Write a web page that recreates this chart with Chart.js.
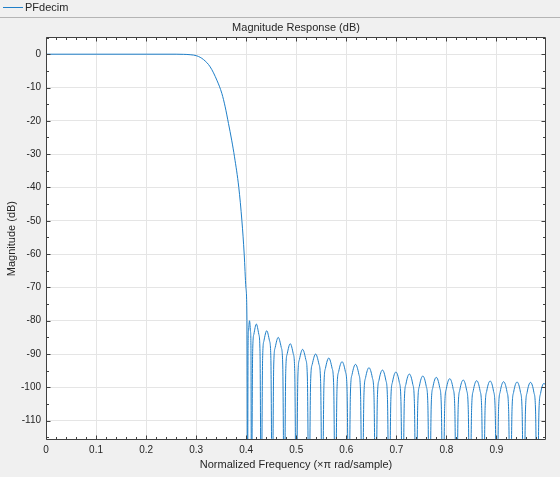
<!DOCTYPE html>
<html lang="en">
<head>
<meta charset="UTF-8">
<title>PFdecim - Magnitude Response</title>
<script src="https://cdn.jsdelivr.net/npm/chart.js"></script>
<style>
  body { margin: 0; background-color: #f0f0f0; }
  canvas { display: block; }
</style>
</head>
<body>
<canvas id="myChart" width="560" height="477"></canvas>
<script>
// tick labels
var xTicks = [0, 0.1, 0.2, 0.3, 0.4, 0.5, 0.6, 0.7, 0.8, 0.9];
var yTicks = [-110, -100, -90, -80, -70, -60, -50, -40, -30, -20, -10, 0];

// normalized frequency (x pi rad/sample)
var freq = [
  // passband + transition
  0, 0.1, 0.2, 0.26, 0.275, 0.288, 0.3014, 0.3146, 0.328, 0.3414, 0.3514, 0.358,
  0.3646, 0.371, 0.3766, 0.3852, 0.3914, 0.396, 0.3994, 0.4015,
  // stopband lobes (null, shoulders, peak)
  0.4027, 0.4037, 0.4047, 0.4066, 0.4085, 0.4095,
  0.4105, 0.4129, 0.4154, 0.4203, 0.4251, 0.4276,
  0.430, 0.4328, 0.4355, 0.441, 0.4465, 0.4493,
  0.452, 0.455, 0.458, 0.464, 0.470, 0.473,
  0.476, 0.479, 0.482, 0.488, 0.494, 0.497,
  0.500, 0.5032, 0.5064, 0.5127, 0.519, 0.5222,
  0.5254, 0.5287, 0.5321, 0.5387, 0.5453, 0.5487,
  0.552, 0.5553, 0.5585, 0.565, 0.5715, 0.5748,
  0.578, 0.5814, 0.5847, 0.5915, 0.5982, 0.6015,
  0.6049, 0.6083, 0.6116, 0.6184, 0.6251, 0.6284,
  0.6318, 0.6352, 0.6385, 0.6453, 0.652, 0.6553,
  0.6587, 0.6621, 0.6654, 0.6722, 0.6789, 0.6822,
  0.6856, 0.689, 0.6923, 0.6991, 0.7058, 0.7091,
  0.7125, 0.7159, 0.7192, 0.726, 0.7327, 0.736,
  0.7394, 0.7428, 0.7461, 0.7529, 0.7596, 0.7629,
  0.7663, 0.7697, 0.773, 0.7798, 0.7865, 0.7898,
  0.7932, 0.7966, 0.7999, 0.8067, 0.8134, 0.8167,
  0.8201, 0.8235, 0.8268, 0.8336, 0.8403, 0.8436,
  0.847, 0.8504, 0.8537, 0.8605, 0.8672, 0.8705,
  0.8739, 0.8773, 0.8806, 0.8874, 0.8941, 0.8974,
  0.9008, 0.9042, 0.9075, 0.9143, 0.921, 0.9243,
  0.9277, 0.9311, 0.9344, 0.9412, 0.9479, 0.9512,
  0.9546, 0.958, 0.9613, 0.9681, 0.9748, 0.9781,
  0.9815, 0.9849, 0.9882, 0.995, 0.999
];

// magnitude in dB (nulls go below the axis)
var magDb = [
  0, 0, 0, 0, -0.05, -0.15, -0.5, -1.6, -3.8, -7.8, -11.8, -15.8,
  -20.8, -25.8, -30.8, -40, -50, -60, -70, -80,
  -140, -88.3, -83, -80, -83, -88.3,
  -140, -89.3, -84, -81, -84, -89.3,
  -140, -91.3, -86, -83, -86, -91.3,
  -140, -93.3, -88, -85, -88, -93.3,
  -140, -95.2, -89.9, -86.9, -89.9, -95.2,
  -140, -96.9, -91.6, -88.6, -91.6, -96.9,
  -140, -98.3, -93, -90, -93, -98.3,
  -140, -99.5, -94.2, -91.2, -94.2, -99.5,
  -140, -100.6, -95.3, -92.3, -95.3, -100.6,
  -140, -101.4, -96.1, -93.1, -96.1, -101.4,
  -140, -102.4, -97.1, -94.1, -97.1, -102.4,
  -140, -103.1, -97.8, -94.8, -97.8, -103.1,
  -140, -103.7, -98.4, -95.4, -98.4, -103.7,
  -140, -104.3, -99, -96, -99, -104.3,
  -140, -104.9, -99.6, -96.6, -99.6, -104.9,
  -140, -105.3, -100, -97, -100, -105.3,
  -140, -105.7, -100.4, -97.4, -100.4, -105.7,
  -140, -106.1, -100.8, -97.8, -100.8, -106.1,
  -140, -106.3, -101, -98, -101, -106.3,
  -140, -106.4, -101.1, -98.1, -101.1, -106.4,
  -140, -106.6, -101.3, -98.3, -101.3, -106.6,
  -140, -106.7, -101.4, -98.4, -101.4, -106.7,
  -140, -106.8, -101.5, -98.5, -101.5, -106.8,
  -140, -107.1, -101.8, -98.8, -99.5
];

var FONT = "'Liberation Sans', Arial, Helvetica, sans-serif";
var TEXT = '#262626';
var AXIS = '#404040';
var GRID = '#e5e5e5';
var LINE = '#1f7fc8';

Chart.defaults.font.family = FONT;
Chart.defaults.color = TEXT;

// white plot box, legend strip, box border and inward ticks (like MATLAB axes)
var axesBox = {
  id: 'axesBox',
  beforeDraw: function(chart) {
    var ctx = chart.ctx;
    var a = chart.chartArea;
    ctx.save();
    ctx.fillStyle = '#ffffff';
    ctx.fillRect(a.left, a.top, a.right - a.left, a.bottom - a.top);

    // legend strip
    ctx.strokeStyle = '#b4b4b4';
    ctx.lineWidth = 1;
    ctx.beginPath();
    ctx.moveTo(0, 17.5);
    ctx.lineTo(chart.width, 17.5);
    ctx.stroke();
    ctx.strokeStyle = LINE;
    ctx.beginPath();
    ctx.moveTo(3, 7.5);
    ctx.lineTo(23, 7.5);
    ctx.stroke();
    ctx.fillStyle = TEXT;
    ctx.font = '11px ' + FONT;
    ctx.textBaseline = 'middle';
    ctx.textAlign = 'left';
    ctx.fillText(chart.data.datasets[0].label, 25, 8);
    ctx.restore();
  },
  afterDatasetsDraw: function(chart) {
    var ctx = chart.ctx;
    var a = chart.chartArea;
    var xs = chart.scales.x;
    var ys = chart.scales.y;
    var l = Math.round(a.left) + 0.5, r = Math.round(a.right) - 0.5;
    var t = Math.round(a.top) + 0.5, b = Math.round(a.bottom) - 0.5;
    ctx.save();
    ctx.strokeStyle = AXIS;
    ctx.lineWidth = 1;
    ctx.beginPath();
    ctx.rect(l, t, r - l, b - t);

    var i, v, p, len;
    for (i = 0; i * 0.02 <= xs.max + 1e-9; i++) {
      v = i * 0.02;
      len = (i % 5 === 0) ? 4 : 2.5;
      p = Math.round(xs.getPixelForValue(v)) + 0.5;
      ctx.moveTo(p, b); ctx.lineTo(p, b - len);
      ctx.moveTo(p, t); ctx.lineTo(p, t + len);
    }
    for (i = Math.ceil(ys.min / 5); i * 5 <= ys.max; i++) {
      v = i * 5;
      len = (v % 10 === 0) ? 4 : 2.5;
      p = Math.round(ys.getPixelForValue(v)) + 0.5;
      ctx.moveTo(l, p); ctx.lineTo(l + len, p);
      ctx.moveTo(r, p); ctx.lineTo(r - len, p);
    }
    ctx.stroke();
    ctx.restore();
  }
};

var points = freq.map(function(f, i) { return { x: f, y: magDb[i] }; });

var ctx = document.getElementById('myChart').getContext('2d');
var myChart = new Chart(ctx, {
  type: 'line',
  data: {
    datasets: [{
      label: 'PFdecim',
      data: points,
      borderColor: LINE,
      borderWidth: 1,
      pointRadius: 0,
      fill: false,
      cubicInterpolationMode: 'monotone'
    }]
  },
  options: {
    responsive: false,
    animation: false,
    layout: { padding: { top: 17, right: 14, bottom: 0, left: 0 } },
    plugins: {
      legend: { display: false },
      tooltip: { enabled: false },
      title: {
        display: true,
        text: 'Magnitude Response (dB)',
        fullSize: false,
        color: TEXT,
        font: { size: 11, weight: 'normal' },
        padding: { top: 4, bottom: 3 }
      }
    },
    scales: {
      x: {
        type: 'linear',
        min: 0,
        max: 0.999,
        afterBuildTicks: function(scale) {
          scale.ticks = xTicks.map(function(v) { return { value: v }; });
        },
        afterFit: function(scale) { scale.height = 37; },
        ticks: {
          padding: 4,
          maxRotation: 0,
          font: { size: 10 },
          color: TEXT,
          callback: function(v) { return String(v); }
        },
        grid: { color: GRID, drawTicks: false },
        border: { display: false },
        title: {
          display: true,
          text: 'Normalized Frequency (\u00d7\u03c0 rad/sample)',
          color: TEXT,
          font: { size: 11 },
          padding: { top: 0, bottom: 5.4 }
        }
      },
      y: {
        type: 'linear',
        min: -115.8,
        max: 5.1,
        afterBuildTicks: function(scale) {
          scale.ticks = yTicks.map(function(v) { return { value: v }; });
        },
        afterFit: function(scale) { scale.width = 46; },
        ticks: {
          padding: 5,
          font: { size: 10 },
          color: TEXT,
          callback: function(v) { return String(v); }
        },
        grid: { color: GRID, drawTicks: false },
        border: { display: false },
        title: {
          display: true,
          text: 'Magnitude (dB)',
          color: TEXT,
          font: { size: 11 },
          padding: { top: 5.4, bottom: 0 }
        }
      }
    }
  },
  plugins: [axesBox]
});
</script>
</body>
</html>
